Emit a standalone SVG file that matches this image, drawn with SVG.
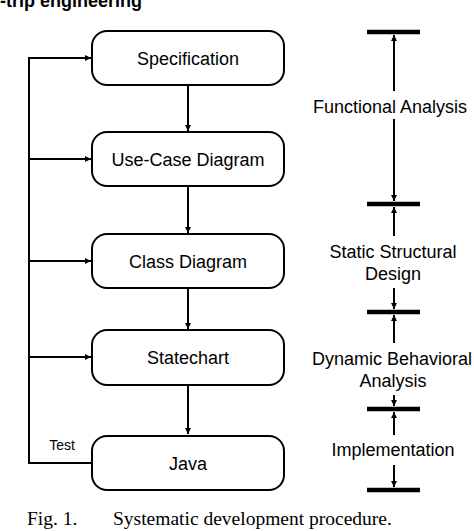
<svg xmlns="http://www.w3.org/2000/svg" width="474" height="531" viewBox="0 0 474 531">
<style>
.box{fill:#fff;stroke:#000;stroke-width:2}
.lbl{font-family:"Liberation Sans",Arial,sans-serif;font-size:18px;fill:#000;text-anchor:middle}
.ln{stroke:#000;stroke-width:2;fill:none}
.bar{stroke:#000;stroke-width:4.5}
.cap{font-family:"Liberation Serif","Times New Roman",serif;font-size:19.5px;fill:#000}
</style>
<defs>
<marker id="ah" viewBox="0 0 10 10" refX="10" refY="5" markerWidth="3" markerHeight="3" orient="auto" markerUnits="strokeWidth">
<path d="M0,0 L10,5 L0,10 z" fill="#000"/>
</marker>
</defs>
<rect width="474" height="531" fill="#fff"/>
<text x="0" y="7" style="font-family:'Liberation Sans',Arial,sans-serif;font-size:18px;font-weight:bold">-trip engineering</text>

<g id="connectors">
<line class="ln" x1="188" y1="85" x2="188" y2="131" marker-end="url(#ah)"/>
<line class="ln" x1="188" y1="186" x2="188" y2="233" marker-end="url(#ah)"/>
<line class="ln" x1="188" y1="288" x2="188" y2="329" marker-end="url(#ah)"/>
<line class="ln" x1="188" y1="385" x2="188" y2="434" marker-end="url(#ah)"/>
<polyline class="ln" points="92,463 29,463 29,58 91,58" marker-end="url(#ah)"/>
<line class="ln" x1="29" y1="159" x2="91" y2="159" marker-end="url(#ah)"/>
<line class="ln" x1="29" y1="261" x2="91" y2="261" marker-end="url(#ah)"/>
<line class="ln" x1="29" y1="357" x2="91" y2="357" marker-end="url(#ah)"/>
<text x="62" y="450" style="font-family:'Liberation Sans',Arial,sans-serif;font-size:14px;text-anchor:middle">Test</text>
</g>

<g id="spec"><rect class="box" x="92" y="31" width="192" height="54" rx="15"/><text class="lbl" x="188" y="65">Specification</text></g>
<g id="usecase"><rect class="box" x="92" y="132" width="192" height="54" rx="15"/><text class="lbl" x="188" y="166">Use-Case Diagram</text></g>
<g id="class"><rect class="box" x="92" y="234" width="192" height="54" rx="15"/><text class="lbl" x="188" y="268">Class Diagram</text></g>
<g id="statechart"><rect class="box" x="92" y="330" width="192" height="55" rx="15"/><text class="lbl" x="188" y="364">Statechart</text></g>
<g id="java"><rect class="box" x="92" y="436" width="192" height="54" rx="15"/><text class="lbl" x="188" y="470">Java</text></g>

<g id="phases">
<line class="bar" x1="367" y1="32" x2="420" y2="32"/>
<line class="bar" x1="367" y1="204" x2="420" y2="204"/>
<line class="bar" x1="367" y1="312" x2="420" y2="312"/>
<line class="bar" x1="367" y1="409" x2="420" y2="409"/>
<line class="bar" x1="367" y1="490" x2="420" y2="490"/>

<line class="ln" x1="394" y1="91" x2="394" y2="35" marker-end="url(#ah)"/>
<line class="ln" x1="394" y1="119" x2="394" y2="201" marker-end="url(#ah)"/>
<text class="lbl" x="390" y="113">Functional Analysis</text>

<line class="ln" x1="394" y1="236" x2="394" y2="207" marker-end="url(#ah)"/>
<line class="ln" x1="394" y1="288" x2="394" y2="309" marker-end="url(#ah)"/>
<text class="lbl" x="393" y="258">Static Structural</text>
<text class="lbl" x="393" y="280">Design</text>

<line class="ln" x1="394" y1="343" x2="394" y2="315" marker-end="url(#ah)"/>
<line class="ln" x1="394" y1="395" x2="394" y2="406" marker-end="url(#ah)"/>
<text class="lbl" x="392" y="365">Dynamic Behavioral</text>
<text class="lbl" x="393" y="387">Analysis</text>

<line class="ln" x1="394" y1="435" x2="394" y2="412" marker-end="url(#ah)"/>
<line class="ln" x1="394" y1="465" x2="394" y2="487" marker-end="url(#ah)"/>
<text class="lbl" x="393" y="456">Implementation</text>
</g>

<text class="cap" x="27" y="525">Fig. 1.</text>
<text class="cap" x="113" y="525">Systematic development procedure.</text>
</svg>
